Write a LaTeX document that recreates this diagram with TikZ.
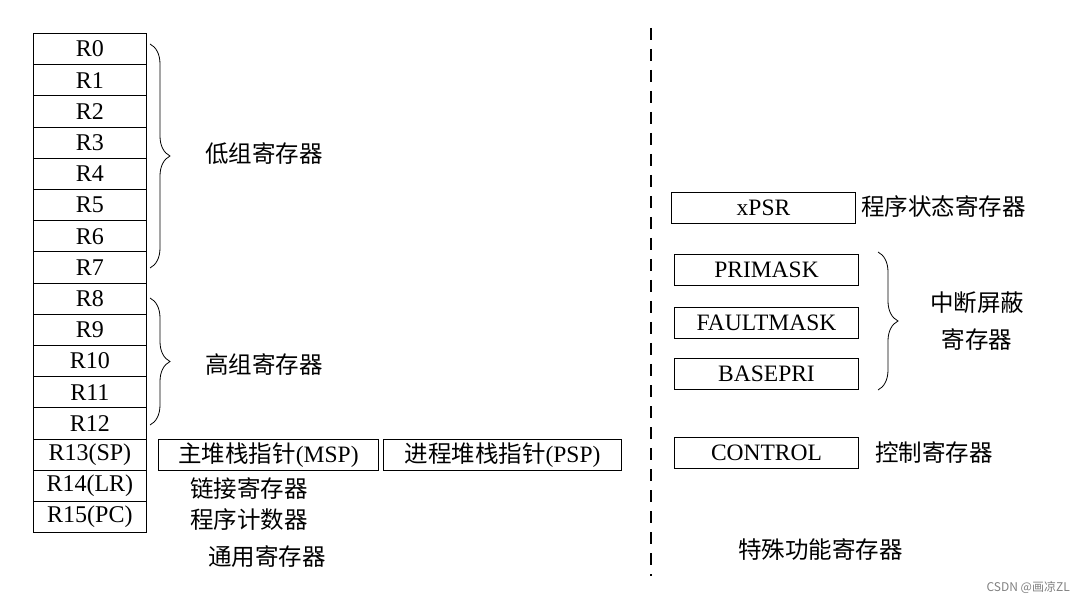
\documentclass[tikz,border=0pt]{standalone}
\usepackage{fontspec}
\setmainfont{Liberation Serif}
\newfontfamily\cjk{Noto Sans CJK SC}
\usetikzlibrary{decorations.pathreplacing}
\begin{document}
\begin{tikzpicture}[x=1pt,y=-1pt,
  reg/.style={draw,line width=0.8pt,minimum width=113pt,minimum height=31.2pt,inner sep=0pt,font=\fontsize{24}{26}\selectfont,anchor=north west},
  sbox/.style={draw,line width=1pt,minimum height=31pt,inner sep=0pt,font=\fontsize{23.5}{26}\selectfont,anchor=north west},
  lab/.style={font=\cjk\fontsize{23.5}{37}\selectfont,inner sep=0pt},
  brc/.style={decorate,decoration={brace,amplitude=20pt},line width=0.8pt}]
\useasboundingbox (0,0) rectangle (1080,604);
\foreach \n [count=\i from 0] in {R0,R1,R2,R3,R4,R5,R6,R7,R8,R9,R10,R11,R12,R13(SP),R14(LR),R15(PC)}
  \node[reg] (r\i) at (33,{33+31.2*\i}) {\n};
\coordinate (lt) at (150,44); \coordinate (lb) at (150,268);
\draw[brc] (lt) -- (lb);
\node[lab,anchor=west] (low) at (205,154) {低组寄存器};
\coordinate (ht) at (150,298); \coordinate (hb) at (150,425);
\draw[brc] (ht) -- (hb);
\node[lab,anchor=west] (high) at (205,364) {高组寄存器};
\node[sbox,minimum width=220pt] (msp) at (158,439) {\cjk 主堆栈指针\rmfamily(MSP)};
\node[sbox,minimum width=238pt] (psp) at (383,439) {\cjk 进程堆栈指针\rmfamily(PSP)};
\node[lab,anchor=west] (lr) at (190,489) {链接寄存器};
\node[lab,anchor=west] (pc) at (190,520) {程序计数器};
\node[lab,anchor=west] (gen) at (208,557) {通用寄存器};
\coordinate (dt) at (651,28); \coordinate (db) at (651,576);
\draw[line width=1.2pt,dash pattern=on 12pt off 9pt] (dt) -- (db);
\node[sbox,minimum width=184pt] (xpsr) at (671,192) {xPSR};
\node[lab,anchor=west] (xl) at (861,207) {程序状态寄存器};
\node[sbox,minimum width=184pt] (pri) at (674,254) {PRIMASK};
\node[sbox,minimum width=184pt] (fm) at (674,307) {FAULTMASK};
\node[sbox,minimum width=184pt] (bp) at (674,358) {BASEPRI};
\coordinate (mt) at (878,252); \coordinate (mb) at (878,390);
\draw[brc] (mt) -- (mb);
\node[lab,align=center] (ml) at (977,321) {中断屏蔽\\寄存器};
\node[sbox,minimum width=184pt] (ctl) at (674,437) {CONTROL};
\node[lab,anchor=west] (cl) at (875,452) {控制寄存器};
\node[lab,anchor=west] (sp) at (738,550) {特殊功能寄存器};
\node[font=\cjk\fontsize{12}{14}\selectfont,text=gray,anchor=east,inner sep=0pt] (wm) at (1070,587) {CSDN @画凉ZL};
\end{tikzpicture}
\end{document}
